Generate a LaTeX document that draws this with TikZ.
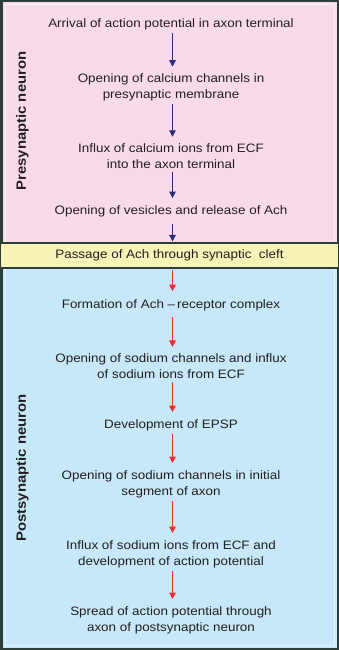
\documentclass[tikz,border=0pt]{standalone}
\usepackage{fontspec}
\setmainfont{Liberation Sans}[FakeStretch=1.1]
\usetikzlibrary{arrows.meta}
\definecolor{framec}{HTML}{2F3D3A}
\definecolor{pinkbg}{HTML}{F9DAEA}
\definecolor{bluebg}{HTML}{C7E8F8}
\definecolor{yellowbg}{HTML}{F7F3B6}
\definecolor{navy}{HTML}{2B2D7C}
\definecolor{redarr}{HTML}{E8302A}
\definecolor{txt}{HTML}{231F20}
\begin{document}
\begin{tikzpicture}[x=1pt,y=-1pt,
  stepnode/.style={inner sep=0pt, align=center, text=txt, font=\fontsize{12.2}{16}\selectfont},
  sidelabel/.style={rotate=90, inner sep=0pt, text=txt, font=\fontsize{13.5}{16}\selectfont\bfseries},
  prearrow/.style={draw=navy, line width=1.3pt, -{Triangle[width=6.5pt,length=6.5pt]}, shorten <=3pt, shorten >=7pt},
  postarrow/.style={prearrow, draw=redarr},
]
\useasboundingbox (0,0) rectangle (339,650);
\fill[framec] (0,0) rectangle (339,650);
\fill[pinkbg] (3,2.5) rectangle (337,243);
\fill[bluebg] (3,268) rectangle (337,647.5);
\draw[white, opacity=0.6, line width=0.7pt] (5,4.5) rectangle (334.5,645.5);

\node[draw=framec, line width=1.5pt, fill=yellowbg, minimum width=339pt, minimum height=25pt,
      inner sep=0pt, text=txt, font=\fontsize{12.2}{16}\selectfont] (band) at (169.5,255.5)
      {Passage of Ach through synaptic\ \ cleft};

\node[stepnode] (n1) at (171,24.6) {Arrival of action potential in axon terminal};
\node[stepnode] (n2) at (171,87.6) {Opening of calcium channels in\\presynaptic membrane};
\node[stepnode] (n3) at (171,156.5) {Influx of calcium ions from ECF\\into the axon terminal};
\node[stepnode] (n4) at (171,211) {Opening of vesicles and release of Ach};
\node[stepnode] (n5) at (171,305) {Formation of Ach –\,receptor complex};
\node[stepnode] (n6) at (171,366.6) {Opening of sodium channels and influx\\of sodium ions from ECF};
\node[stepnode] (n7) at (171,425) {Development of EPSP};
\node[stepnode] (n8) at (171,483.9) {Opening of sodium channels in initial\\segment of axon};
\node[stepnode] (n9) at (171,553.9) {Influx of sodium ions from ECF and\\development of action potential};
\node[stepnode] (n10) at (171,619.9) {Spread of action potential through\\axon of postsynaptic neuron};

\node[sidelabel] (pre) at (22.5,121) {Presynaptic neuron};
\node[sidelabel] (post) at (22.5,468) {Postsynaptic neuron};

\draw[prearrow] ([xshift=1.5pt]n1.south) -- ([xshift=1.5pt]n2.north);
\draw[prearrow] ([xshift=1.5pt]n2.south) -- ([xshift=1.5pt]n3.north);
\draw[prearrow] ([xshift=1.5pt]n3.south) -- ([xshift=1.5pt]n4.north);
\draw[prearrow, shorten <=7pt, shorten >=0.8pt] ([xshift=1.5pt]n4.south) -- ([xshift=1.5pt]band.north -| n4.south);
\draw[postarrow, shorten <=1pt, shorten >=8pt] ([xshift=1.5pt]band.south -| n5.north) -- ([xshift=1.5pt]n5.north);
\draw[postarrow, shorten <=6pt] ([xshift=1.5pt]n5.south) -- ([xshift=1.5pt]n6.north);
\draw[postarrow] ([xshift=1.5pt]n6.south) -- ([xshift=1.5pt]n7.north);
\draw[postarrow] ([xshift=1.5pt]n7.south) -- ([xshift=1.5pt]n8.north);
\draw[postarrow] ([xshift=1.5pt]n8.south) -- ([xshift=1.5pt]n9.north);
\draw[postarrow] ([xshift=1.5pt]n9.south) -- ([xshift=1.5pt]n10.north);
\end{tikzpicture}
\end{document}
